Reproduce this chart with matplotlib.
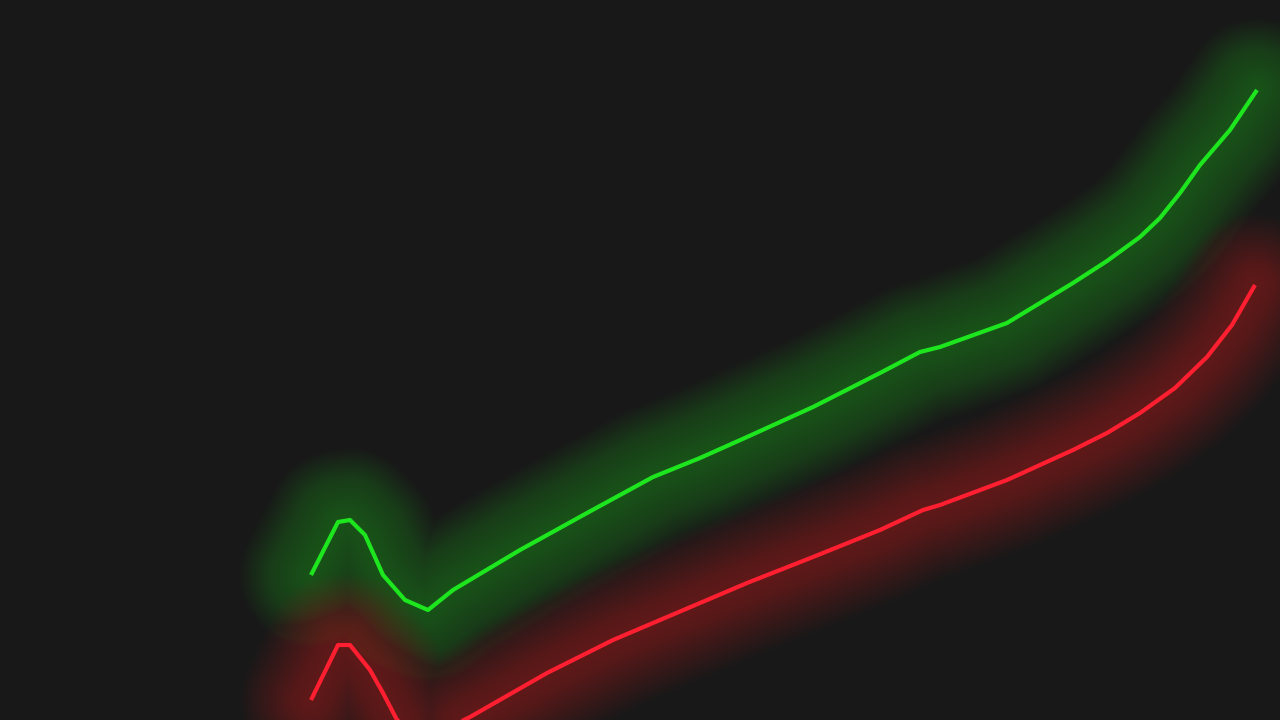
import matplotlib
matplotlib.use("Agg")
import matplotlib.pyplot as plt
import numpy as np

# Values (x position, level)
green_x = [311, 338, 350, 365, 383, 405, 428, 453, 520, 587, 653, 700, 747, 813,
           880, 920, 940, 1007, 1073, 1107, 1140, 1160, 1180, 1200, 1230, 1257]
green_y = [145, 198, 200, 185, 145, 120, 110, 130, 170, 207, 243, 262, 283, 313,
           347, 368, 373, 397, 437, 459, 483, 502, 527, 555, 590, 630]

red_x = [311, 338, 350, 370, 383, 397, 428, 470, 547, 613, 700, 747, 813, 880,
         923, 940, 1007, 1073, 1107, 1140, 1175, 1207, 1232, 1255]
red_y = [20, 75, 75, 50, 27, 0, -18, 3, 47, 80, 117, 137, 163, 190,
         210, 215, 240, 270, 287, 307, 332, 363, 395, 435]

bg = "#181818"
green = "#1ee61e"
red = "#ff1f30"

fig = plt.figure(figsize=(12.8, 7.2), dpi=100, facecolor=bg)
ax = fig.add_axes([0, 0, 1, 1])
ax.set_facecolor(bg)
ax.set_xlim(0, 1280)
ax.set_ylim(0, 720)
ax.axis("off")

for xs, ys, c, a in [(green_x, green_y, green, 0.011), (red_x, red_y, red, 0.011)]:
    n = 40
    for i in range(n, 0, -1):
        ax.plot(xs, ys, color=c, lw=3 + i * 2.5, alpha=a,
                solid_capstyle="round", solid_joinstyle="round")
    ax.plot(xs, ys, color=c, lw=3, solid_capstyle="butt",
            solid_joinstyle="round", zorder=5)

fig.savefig("out.png", dpi=100, facecolor=bg)
